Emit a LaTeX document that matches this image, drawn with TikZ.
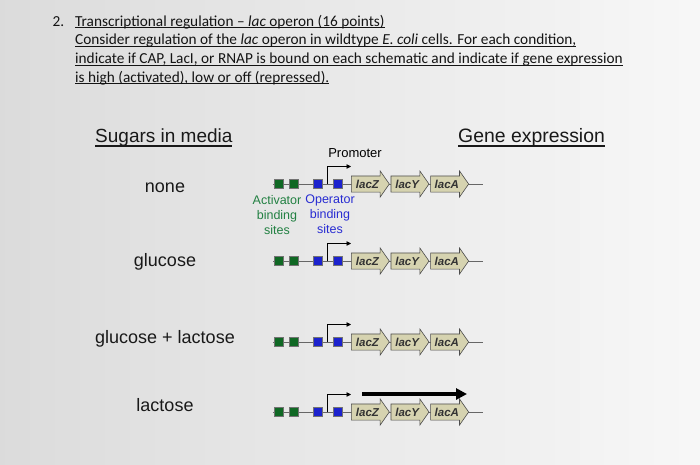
\documentclass[tikz,border=0pt]{standalone}
\usepackage{fontspec}
\setmainfont{Liberation Sans}
\newfontfamily\hdrfont{Carlito}
\usetikzlibrary{shapes.arrows,arrows.meta,positioning}
\definecolor{genefill}{RGB}{214,211,176}
\definecolor{sitegreen}{RGB}{16,104,36}
\definecolor{siteblue}{RGB}{28,34,205}
\definecolor{actgreen}{RGB}{34,128,66}
\definecolor{opblue}{RGB}{40,44,210}
\newsavebox\ulbox
\newcommand\hul[2][-2.4pt]{\sbox\ulbox{#2}\rlap{\rule[#1]{\wd\ulbox}{0.07em}}\usebox\ulbox}
\begin{document}
\begin{tikzpicture}[x=1pt,y=-1pt,
		hdr/.style={anchor=base west, inner sep=0, text=black!92,
			font=\hdrfont\fontsize{15.3}{18}\selectfont},
		head/.style={anchor=base west, inner sep=0, text=black!90,
			font=\fontsize{19.4}{22}\selectfont},
		sugar/.style={anchor=base, inner sep=0, text=black!90,
			font=\fontsize{18}{21}\selectfont},
		site/.style={draw=black!55, line width=0.4pt, minimum size=9pt, inner sep=0},
		actsite/.style={site, fill=sitegreen},
		opsite/.style={site, fill=siteblue},
		gene/.style={single arrow, draw=black!70, fill=genefill, line width=0.6pt,
			minimum height=38pt, single arrow head extend=5pt, single arrow tip angle=110,
			text height=8.5pt, text depth=0pt, inner ysep=3.5pt, inner xsep=2pt,
			font=\bfseries\itshape\fontsize{11.5}{13}\selectfont, text=black!80},
		dna/.style={draw=black!60, line width=0.8pt},
		tss/.style={draw=black, line width=0.6pt, -{Triangle[length=4.5pt,width=4.5pt]}},
		sitelabel/.style={align=center, anchor=north, inner sep=0,
			font=\fontsize{12.5}{15}\selectfont}
		]
	% background of the photo
	\shade[left color=gray!28, right color=gray!6] (0,0) rectangle (700,464);
	\useasboundingbox (0,0) rectangle (700,464);

	% question text
	\node [hdr] (num) at (52.5,26) {2.};
	\node [hdr] (hl1) at (75,26) {\hul{Transcriptional regulation – \textit{lac} operon (16 points)}};
	\node [hdr] (hl2) at (75,44.7) {\hul{Consider regulation of the \textit{lac} operon in wildtype \textit{E. coli} cells. For each condition,}};
	\node [hdr] (hl3) at (75,63.3) {\hul{indicate if CAP, LacI, or RNAP is bound on each schematic and indicate if gene expression}};
	\node [hdr] (hl4) at (75,82) {\hul{is high (activated), low or off (repressed).}};

	% column heads
	\node [head, font=\fontsize{19}{22}\selectfont] (sugarhd) at (95,142) {\hul[-4.5pt]{Sugars in media}};
	\node [head] (exprhd) at (458,142) {\hul[-4.5pt]{Gene expression}};

	% one schematic per condition
	\foreach \r/\y/\ly/\lab in {1/184/192.7/none, 2/261/266.7/glucose,
			3/342/343.3/glucose + lactose, 4/412/411.7/lactose} {
		\node [sugar] (sugar\r) at (165,\ly) {\lab};
		\coordinate (dnaL\r) at (273,\y);
		\coordinate (dnaR\r) at (483,\y);
		\draw [dna] (dnaL\r) -- (dnaR\r);
		\node [actsite] (act\r a) at (279,\y) {};
		\node [actsite] (act\r b) at (293.5,\y) {};
		\node [opsite] (op\r a) at (317.5,\y) {};
		\node [opsite] (op\r b) at (337.5,\y) {};
		\coordinate (prom\r) at (327,\y);
		\coordinate (tss\r) at (351,\y-17.5);
		\draw [tss] (prom\r) |- (tss\r);
		\node [gene, anchor=tail] (lacZ\r) at (351,\y) {lacZ};
		\node [gene, right=1pt of lacZ\r] (lacY\r) {lacY};
		\node [gene, right=1pt of lacY\r] (lacA\r) {lacA};
	}

	% labels on the first schematic
	\node [font=\fontsize{13}{15}\selectfont, anchor=base, inner sep=0] (promlbl) at (355,157) {Promoter};
	\node [sitelabel, text=actgreen] (actlbl) at (277,195) {Activator\\binding\\sites};
	\node [sitelabel, text=opblue] (oplbl) at (330,195) {Operator\\binding\\sites};

	% transcript in lactose
	\coordinate (txS) at (362,394);
	\coordinate (txE) at (467,394);
	\draw [line width=3.5pt, -{Triangle[length=11pt,width=11pt]}] (txS) -- (txE);
\end{tikzpicture}
\end{document}
